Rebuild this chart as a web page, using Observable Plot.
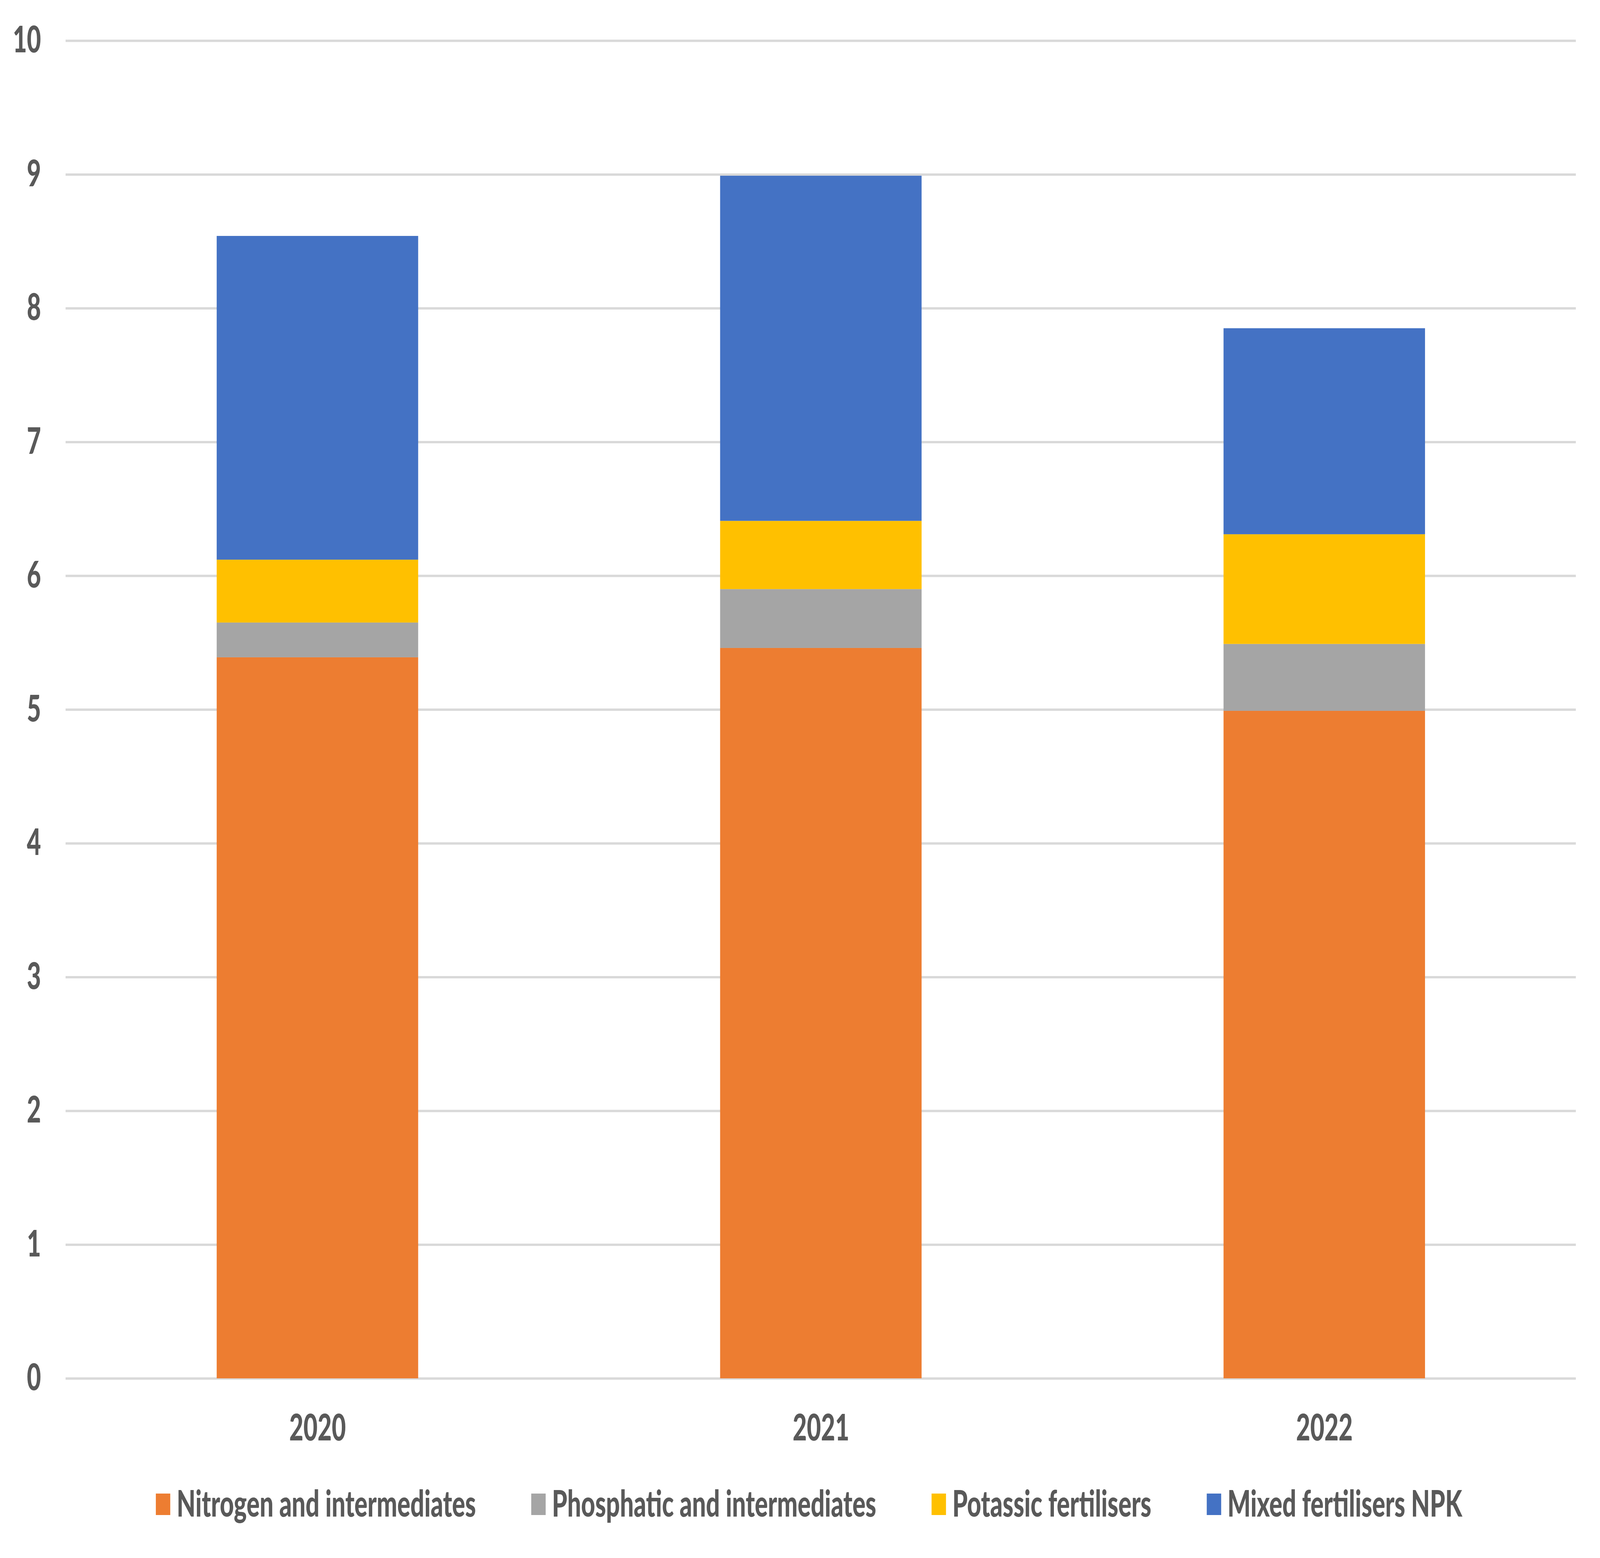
<!DOCTYPE html>
<html>
<head>
<meta charset="utf-8">
<script src="https://cdn.jsdelivr.net/npm/d3@7"></script>
<script src="https://cdn.jsdelivr.net/npm/@observablehq/plot@0.6"></script>
<style>
  html, body { margin: 0; padding: 0; background: #ffffff; overflow: hidden; }
  #page { width: 6099px; height: 3989px; transform-origin: 0 0; background: #ffffff; position: absolute; left: 0; top: 0; }
  #legend { display: flex; justify-content: center; align-items: center; gap: 211px;
            padding-top: 31px; padding-left: 69px; font-family: Lato, sans-serif; font-weight: 900;
            font-size: 93px; color: #595959; line-height: 112px; white-space: nowrap; }
  .item { display: flex; align-items: center; }
  .sw { width: 55px; height: 55px; margin-right: 24px; display: inline-block; position: relative; top: 4px; }
</style>
</head>
<body>
<div id="page">
  <div id="chart"></div>
  <div id="legend"></div>
</div>
<script>
const years = ["2020", "2021", "2022"];
const seriesNames = ["Nitrogen and intermediates", "Phosphatic and intermediates", "Potassic fertilisers", "Mixed fertilisers NPK"];
const seriesColors = ["#ED7D31", "#A5A5A5", "#FFC000", "#4472C4"];
const nitrogen = [5.39, 5.46, 4.99];
const phosphatic = [0.26, 0.44, 0.50];
const potassic = [0.47, 0.51, 0.82];
const mixed = [2.42, 2.58, 1.54];
const yTicks = [0, 1, 2, 3, 4, 5, 6, 7, 8, 9, 10];

const seriesValues = [nitrogen, phosphatic, potassic, mixed];
const rows = [];
seriesNames.forEach((name, si) => {
  years.forEach((yr, yi) => rows.push({year: yr, series: name, value: seriesValues[si][yi]}));
});

const chart = Plot.plot({
  width: 6099,
  height: 3760,
  marginTop: 104,
  marginLeft: 250,
  marginRight: 92,
  marginBottom: 231,
  style: { fontFamily: "Lato, sans-serif", fontWeight: 900, fontSize: "93px", color: "#595959", background: "#ffffff" },
  x: { domain: years, paddingInner: 0.6, paddingOuter: 0.3, label: null, tickSize: 0, tickPadding: 92 },
  y: { domain: [0, 10], ticks: yTicks, label: null, tickSize: 0, tickPadding: 94, tickFormat: d3.format("d") },
  color: { domain: seriesNames, range: seriesColors },
  marks: [
    Plot.ruleY(yTicks, { stroke: "#D9D9D9", strokeWidth: 6 }),
    Plot.barY(rows, Plot.stackY({ x: "year", y: "value", fill: "series", order: seriesNames })),
  ]
});
document.getElementById("chart").appendChild(chart);

const legend = document.getElementById("legend");
seriesNames.forEach((name, i) => {
  const it = document.createElement("div");
  it.className = "item";
  const sw = document.createElement("span");
  sw.className = "sw";
  sw.style.background = seriesColors[i];
  const tx = document.createElement("span");
  tx.textContent = name;
  it.appendChild(sw);
  it.appendChild(tx);
  legend.appendChild(it);
});

// The browser viewport may be smaller than the reference canvas; fit the 6099x3989 page into it.
function fit() {
  const sx = window.innerWidth / 6099;
  const sy = window.innerHeight / 3989;
  document.getElementById("page").style.transform = "scale(" + sx + "," + sy + ")";
}
fit();
window.addEventListener("resize", fit);
</script>
</body>
</html>
